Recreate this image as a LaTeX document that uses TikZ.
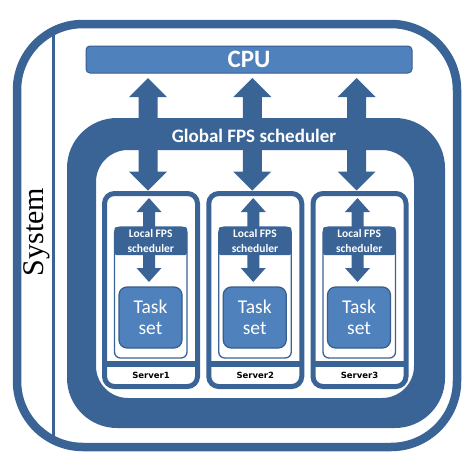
\documentclass[tikz,border=0pt]{standalone}
\usepackage{fontspec}
\setmainfont{Carlito}
\newfontfamily\sysfont{Liberation Serif}
\newfontfamily\srvfont{DejaVu Sans}
\usetikzlibrary{calc}
\definecolor{dark}{HTML}{3A6496}
\definecolor{mid}{HTML}{4F81BD}
\definecolor{edge}{HTML}{385D8A}
\tikzset{
  blockarrow/.style n args={3}{to path={let \p1=(\tikztostart), \p2=(\tikztotarget) in
    -- (\x1+#1,\y1-#3) -- (\x1+#2,\y1-#3) -- (\x1+#2,\y2+#3) -- (\x1+#1,\y2+#3) -- (\x1,\y2)
    -- (\x1-#1,\y2+#3) -- (\x1-#2,\y2+#3) -- (\x1-#2,\y1-#3) -- (\x1-#1,\y1-#3) -- cycle}},
  base/.style={inner sep=0pt, outer sep=0pt},
  cpubox/.style={base, fill=mid, draw=edge, line width=1pt, rounded corners=4pt,
    minimum width=326pt, minimum height=27pt, text=white, font=\bfseries\fontsize{25}{28}\selectfont},
  gtext/.style={base, text=white, font=\bfseries\fontsize{19}{22}\selectfont},
  serverbox/.style={base, draw=dark, line width=5pt, fill=white, rounded corners=10pt,
    minimum width=93pt, minimum height=193pt},
  innerbox/.style={base, draw=dark, line width=1.3pt, rounded corners=6pt,
    minimum width=72.5pt, minimum height=131pt},
  localbox/.style={base, fill=dark, rounded corners=2pt, minimum width=72.5pt, minimum height=28pt,
    text=white, align=center, font=\bfseries\fontsize{11.5}{14.5}\selectfont},
  taskbox/.style={base, fill=mid, draw=edge, line width=1.2pt, rounded corners=8pt,
    minimum width=63pt, minimum height=61pt, text=white, align=center,
    font=\fontsize{19.5}{21}\selectfont},
  srvlabel/.style={base, text=black, font=\srvfont\bfseries\fontsize{8.5}{10}\selectfont},
  systext/.style={base, rotate=90, anchor=base, font=\sysfont\fontsize{30}{36}\selectfont},
}
\begin{document}
\begin{tikzpicture}[x=1pt,y=-1pt]
\useasboundingbox (0,0) rectangle (474,474);
% system frame
\draw[dark, line width=2.5pt] (53.5,30) -- (53.5,442);
\draw[dark, line width=8.5pt, rounded corners=66pt] (17,24) rectangle (457,447);
\node[systext] (sys) at (43,232) {System};
% CPU
\node[cpubox] (cpu) at (249,59.5) {CPU};
% global scheduler ring
\fill[dark, even odd rule, rounded corners=50pt] (67,118) rectangle (445,428)
  [rounded corners=32pt] (96,150) rectangle (414,398);
% servers
\foreach \i/\c in {1/151,2/255.25,3/359.5}{
  \node[serverbox] (s\i) at (\c,290) {};
  \fill[dark] (\c-47,361) rectangle (\c+47,367);
  \node[srvlabel] (l\i) at (\c,375.5) {Server\i};
  \node[innerbox] (b\i) at (\c-0.25,292.5) {};
  \node[taskbox] (t\i) at (\c-0.5,317.5) {Task\\set};
  \fill[dark] ($(s\i.north)+(-2,4.5)$) to[blockarrow={12.5pt}{6pt}{14pt}] ($(t\i.north)+(0,-5)$);
  \node[localbox] (f\i) at (\c-0.25,241) {Local FPS\\scheduler};
  \fill[dark] ($(cpu.south -| s\i.north)+(-3,5)$) to[blockarrow={19pt}{9.5pt}{19pt}] ($(s\i.north)+(0,-3)$);
}
\node[gtext] (gfps) at (254,136) {Global FPS scheduler};
\end{tikzpicture}
\end{document}
